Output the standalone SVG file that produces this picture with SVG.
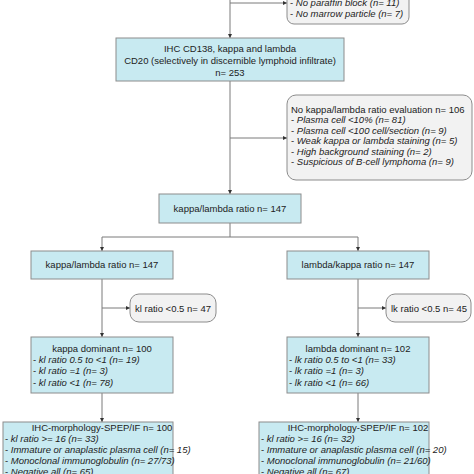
<svg xmlns="http://www.w3.org/2000/svg" width="474" height="474" viewBox="0 0 474 474">
<defs>
<style>
text{font-family:"Liberation Sans",Arial,sans-serif;font-size:9.5px;fill:#222}
.c{text-anchor:middle}
.i{font-style:italic}
.box{fill:#c8eaf1;stroke:#8c8c8c;stroke-width:1}
.note{fill:#f2f2f2;stroke:#8c8c8c;stroke-width:1}
.ln{fill:none;stroke:#7a7a7a;stroke-width:1}
</style>
<marker id="ah" viewBox="0 0 6 6" refX="6" refY="3" markerWidth="4" markerHeight="4" orient="auto" markerUnits="userSpaceOnUse">
<path d="M0,0L6,3L0,6z" fill="#333"/>
</marker>
</defs>
<rect width="474" height="474" fill="#fff"/>
<g id="connectors">
<path class="ln" d="M230,0V38" marker-end="url(#ah)"/>
<path class="ln" d="M230,3H287" marker-end="url(#ah)"/>
<path class="ln" d="M230,81V194" marker-end="url(#ah)"/>
<path class="ln" d="M230,138H287" marker-end="url(#ah)"/>
<path class="ln" d="M230,223V237"/>
<path class="ln" d="M102,237H358"/>
<path class="ln" d="M102,237V251" marker-end="url(#ah)"/>
<path class="ln" d="M358,237V251" marker-end="url(#ah)"/>
<path class="ln" d="M102,279V337" marker-end="url(#ah)"/>
<path class="ln" d="M102,308H130" marker-end="url(#ah)"/>
<path class="ln" d="M358,279V337" marker-end="url(#ah)"/>
<path class="ln" d="M358,308H386" marker-end="url(#ah)"/>
<path class="ln" d="M102,393V422" marker-end="url(#ah)"/>
<path class="ln" d="M358,393V422" marker-end="url(#ah)"/>
</g>
<g id="excluded">
<rect class="note" x="287" y="-15" width="122" height="39" rx="7"/>
<text x="290" y="6">- <tspan class="i">No paraffin block (n= 11)</tspan></text>
<text x="290" y="17">- <tspan class="i">No marrow particle (n= 7)</tspan></text>
</g>
<g id="ihc">
<rect class="box" x="116" y="38" width="228" height="43"/>
<text class="c" x="230" y="51.5">IHC CD138, kappa and lambda</text>
<text class="c" x="230" y="64">CD20 (selectively in discernible lymphoid infiltrate)</text>
<text class="c" x="230" y="75.5">n= 253</text>
</g>
<g id="no-ratio">
<rect class="note" x="287" y="95" width="185" height="85" rx="9"/>
<text x="291" y="112.5">No kappa/lambda ratio evaluation n= 106</text>
<text x="291" y="123">- <tspan class="i">Plasma cell &lt;10% (n= 81)</tspan></text>
<text x="291" y="133.5">- <tspan class="i">Plasma cell &lt;100 cell/section (n= 9)</tspan></text>
<text x="291" y="144">- <tspan class="i">Weak kappa or lambda staining (n= 5)</tspan></text>
<text x="291" y="154.5">- <tspan class="i">High background staining (n= 2)</tspan></text>
<text x="291" y="165">- <tspan class="i">Suspicious of B-cell lymphoma (n= 9)</tspan></text>
</g>
<g id="ratio">
<rect class="box" x="159" y="194" width="142" height="29"/>
<text class="c" x="230" y="211.5">kappa/lambda ratio n= 147</text>
</g>
<g id="kl-ratio">
<rect class="box" x="31" y="251" width="142" height="28"/>
<text class="c" x="102" y="268">kappa/lambda ratio n= 147</text>
</g>
<g id="lk-ratio">
<rect class="box" x="287" y="251" width="142" height="28"/>
<text class="c" x="358" y="268">lambda/kappa ratio n= 147</text>
</g>
<g id="kl-low">
<rect class="note" x="130" y="294" width="86" height="28" rx="9"/>
<text class="c" x="173" y="311.5">kl ratio &lt;0.5 n= 47</text>
</g>
<g id="lk-low">
<rect class="note" x="386" y="294" width="85" height="28" rx="9"/>
<text class="c" x="429" y="311.5">lk ratio &lt;0.5 n= 45</text>
</g>
<g id="kappa-dom">
<rect class="box" x="31" y="337" width="142" height="56"/>
<text class="c" x="102" y="351.5">kappa dominant n= 100</text>
<text x="33" y="362.5">- <tspan class="i">kl ratio 0.5 to &lt;1 (n= 19)</tspan></text>
<text x="33" y="374">- <tspan class="i">kl ratio =1 (n= 3)</tspan></text>
<text x="33" y="385.5">- <tspan class="i">kl ratio &lt;1 (n= 78)</tspan></text>
</g>
<g id="lambda-dom">
<rect class="box" x="287" y="337" width="142" height="56"/>
<text class="c" x="358" y="351.5">lambda dominant n= 102</text>
<text x="289" y="362.5">- <tspan class="i">lk ratio 0.5 to &lt;1 (n= 33)</tspan></text>
<text x="289" y="374">- <tspan class="i">lk ratio =1 (n= 3)</tspan></text>
<text x="289" y="385.5">- <tspan class="i">lk ratio &lt;1 (n= 66)</tspan></text>
</g>
<g id="ihc-left">
<rect class="box" x="3" y="422" width="170" height="64"/>
<text class="c" x="102" y="430.5">IHC-morphology-SPEP/IF n= 100</text>
<text x="5" y="441.5">- <tspan class="i">kl ratio &gt;= 16 (n= 33)</tspan></text>
<text x="5" y="452.5">- <tspan class="i">Immature or anaplastic plasma cell (n= 15)</tspan></text>
<text x="5" y="463.5">- <tspan class="i">Monoclonal immunoglobulin (n= 27/73)</tspan></text>
<text x="5" y="475">- <tspan class="i">Negative all (n= 65)</tspan></text>
</g>
<g id="ihc-right">
<rect class="box" x="259" y="422" width="170" height="64"/>
<text class="c" x="358" y="430.5">IHC-morphology-SPEP/IF n= 102</text>
<text x="261" y="441.5">- <tspan class="i">kl ratio &gt;= 16 (n= 32)</tspan></text>
<text x="261" y="452.5">- <tspan class="i">Immature or anaplastic plasma cell (n= 20)</tspan></text>
<text x="261" y="463.5">- <tspan class="i">Monoclonal immunoglobulin (n= 21/60)</tspan></text>
<text x="261" y="475">- <tspan class="i">Negative all (n= 67)</tspan></text>
</g>
</svg>
